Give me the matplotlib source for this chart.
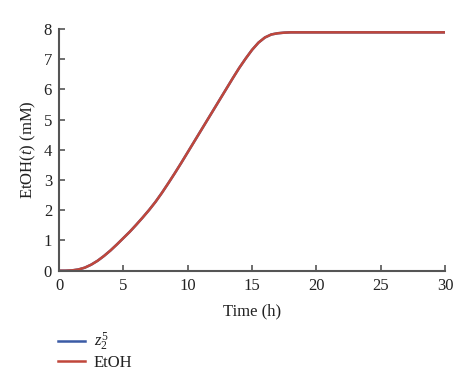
import matplotlib
matplotlib.use("Agg")
import matplotlib.pyplot as plt
from matplotlib.lines import Line2D

# Data
time_h = [0, 0.5, 1, 1.5, 2, 2.5, 3, 3.5, 4, 4.5, 5, 5.5, 6, 6.5, 7, 7.5, 8, 8.5, 9, 9.5,
          10, 11, 12, 13, 13.5, 14, 14.5, 15, 15.5, 16, 16.5, 17, 17.5, 18, 19, 20, 22,
          25, 28, 30]
etoh = [0, 0.0, 0.01, 0.04, 0.1, 0.2, 0.33, 0.49, 0.67, 0.87, 1.08, 1.29, 1.52, 1.76,
        2.01, 2.28, 2.58, 2.9, 3.23, 3.57, 3.92, 4.62, 5.32, 6.02, 6.37, 6.71, 7.02,
        7.31, 7.55, 7.72, 7.82, 7.86, 7.88, 7.89, 7.89, 7.89, 7.89, 7.89, 7.89, 7.89]
z25 = list(etoh)

xticks = [0, 5, 10, 15, 20, 25, 30]
yticks = [0, 1, 2, 3, 4, 5, 6, 7, 8]

plt.rcParams['font.family'] = ['Liberation Serif', 'DejaVu Serif']
plt.rcParams['mathtext.fontset'] = 'custom'
plt.rcParams['mathtext.rm'] = 'Liberation Serif'
plt.rcParams['mathtext.it'] = 'Liberation Serif:italic'

axis_color = '#555555'
text_color = '#222222'
blue = '#3B5BA5'
red = '#C0473B'

fig = plt.figure(figsize=(4.74, 3.87), dpi=100)
ax = fig.add_axes([0.1245, 0.3005, 0.8145, 0.6245])

ax.plot(time_h, z25, color=blue, lw=1.8)
ax.plot(time_h, etoh, color=red, lw=1.8)

ax.set_xlim(0, 30)
ax.set_ylim(0, 8)
ax.set_xticks(xticks)
ax.set_yticks(yticks)
for s in ['top', 'right']:
    ax.spines[s].set_visible(False)
for s in ['left', 'bottom']:
    ax.spines[s].set_color(axis_color)
    ax.spines[s].set_linewidth(1.5)
ax.tick_params(direction='in', length=4, width=1.2, color=axis_color,
               labelsize=12, labelcolor=text_color, pad=5)

ax.set_xlabel('Time (h)', fontsize=12, color=text_color, labelpad=7)
ax.set_ylabel(r'EtOH($t$) (mM)', fontsize=12, color=text_color, labelpad=4)

handles = [Line2D([0], [0], color=blue, lw=1.8), Line2D([0], [0], color=red, lw=1.8)]
fig.legend(handles, [r'$z_2^5$', 'EtOH'], loc='upper left',
           bbox_to_anchor=(58 / 474, 1 - 331 / 387), frameon=False, fontsize=12,
           handlelength=1.6, handletextpad=0.55, labelspacing=0.1,
           borderpad=0, borderaxespad=0, labelcolor=text_color)

fig.savefig('out.png', dpi=100)
